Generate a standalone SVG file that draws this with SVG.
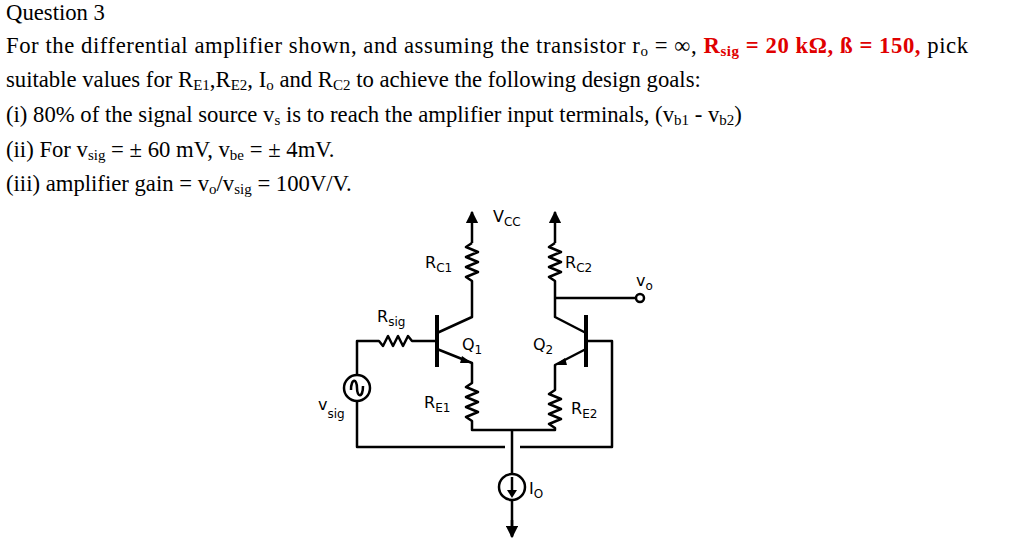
<svg xmlns="http://www.w3.org/2000/svg" width="1010" height="551" viewBox="0 0 1010 551">
<defs>
<style>
.t{font-family:"Liberation Serif",serif;font-size:22.7px;fill:#000}
.s{font-size:15px}
.r{fill:#e00000;font-weight:bold}
.w{stroke:#000;stroke-width:2.5;fill:none;stroke-linejoin:round}
.l{font-family:"DejaVu Sans",sans-serif;font-size:16px;fill:#000}
.ls{font-size:12px}
</style>
<marker id="ah" viewBox="0 0 10 10" refX="9" refY="5" markerWidth="5" markerHeight="5" orient="auto"><path d="M0,0L10,5L0,10z" fill="#000"/></marker>
</defs>
<rect width="1010" height="551" fill="#fff"/>
<g id="text">
<text class="t" x="6" y="20">Question 3</text>
<text class="t" x="6" y="53" textLength="962" lengthAdjust="spacing">For the differential amplifier shown, and assuming the transistor r<tspan class="s" dy="3">o</tspan><tspan dy="-3"> = ∞, </tspan><tspan class="r">R<tspan class="s" dy="3">sig</tspan><tspan dy="-3"> = 20 kΩ, ß = 150,</tspan></tspan> pick</text>
<text class="t" x="6" y="87">suitable values for R<tspan class="s" dy="3">E1</tspan><tspan dy="-3">,R</tspan><tspan class="s" dy="3">E2</tspan><tspan dy="-3">, I</tspan><tspan class="s" dy="3">o</tspan><tspan dy="-3"> and R</tspan><tspan class="s" dy="3">C2</tspan><tspan dy="-3"> to achieve the following design goals:</tspan></text>
<text class="t" x="6" y="122">(i) 80% of the signal source v<tspan class="s" dy="3">s</tspan><tspan dy="-3"> is to reach the amplifier input terminals, (v</tspan><tspan class="s" dy="3">b1</tspan><tspan dy="-3"> - v</tspan><tspan class="s" dy="3">b2</tspan><tspan dy="-3">)</tspan></text>
<text class="t" x="6" y="157">(ii) For v<tspan class="s" dy="3">sig</tspan><tspan dy="-3"> = ± 60 mV, v</tspan><tspan class="s" dy="3">be</tspan><tspan dy="-3"> = ± 4mV.</tspan></text>
<text class="t" x="6" y="191">(iii) amplifier gain = v<tspan class="s" dy="3">o</tspan><tspan dy="-3">/v</tspan><tspan class="s" dy="3">sig</tspan><tspan dy="-3"> = 100V/V.</tspan></text>
</g>
<g id="connectors">
<path class="w" d="M472,243V212" marker-end="url(#ah)"/>
<path class="w" d="M555,243V212" marker-end="url(#ah)"/>
<path class="w" d="M472,243l-6,4l12,5l-12,5l12,5l-12,5l12,5l-12,5l6,4V317L437,333"/>
<path class="w" d="M555,243l-6,4l12,5l-12,5l12,5l-12,5l12,5l-12,5l6,4V317L586,333"/>
<path class="w" d="M555,298H636"/>
<path class="w" d="M437,349L472,363V383l-6,4l12,5l-12,5l12,5l-12,5l12,5l-12,5l6,4V430H555V428l-6,-4l12,-5l-12,-5l12,-5l-12,-5l12,-5l-12,-5l6,-4V365L586,349"/>
<path d="M472,363l-10,-7l-2,7z" fill="#000"/>
<path d="M555,365l10,-7l2,7z" fill="#000"/>
<path class="w" d="M512,430V474M512,500V536" />
<path class="w" d="M512,520V537" marker-end="url(#ah)"/>
<path class="w" d="M437,341H412l-4,-5l-5,10l-5,-10l-5,10l-5,-10l-5,10l-4,-5H357V375M357,401V447H505M520,447H612V341H586"/>
<path d="M437,315V367M586,315V367" stroke="#000" stroke-width="4"/>
</g>
<g id="vsig"><circle cx="357" cy="388" r="13" class="w"/><path class="w" stroke-width="2" d="M351,390c0,-12 6,-12 6,-2s6,10 6,-2"/></g>
<g id="io"><circle cx="512" cy="487" r="13" class="w"/><path class="w" d="M512,477V494"/><path d="M507,490l5,8l5,-8z" fill="#000"/></g>
<g id="vo"><circle cx="640" cy="298" r="4" class="w" stroke-width="2" fill="#fff"/></g>
<g id="labels">
<text class="l" x="493" y="222">V<tspan class="ls" dy="4">CC</tspan></text>
<text class="l" x="425" y="268">R<tspan class="ls" dy="4">C1</tspan></text>
<text class="l" x="565" y="268">R<tspan class="ls" dy="4">C2</tspan></text>
<text class="l" x="377" y="322">R<tspan class="ls" dy="4">sig</tspan></text>
<text class="l" x="462" y="350">Q<tspan class="ls" dy="4">1</tspan></text>
<text class="l" x="533" y="350">Q<tspan class="ls" dy="4">2</tspan></text>
<text class="l" x="424" y="408">R<tspan class="ls" dy="4">E1</tspan></text>
<text class="l" x="571" y="414">R<tspan class="ls" dy="4">E2</tspan></text>
<text class="l" x="318" y="410">v<tspan class="ls" dy="8">sig</tspan></text>
<text class="l" x="636" y="286">v<tspan class="ls" dy="4">o</tspan></text>
<text class="l" x="529" y="494">I<tspan class="ls" dy="4">O</tspan></text>
</g>
</svg>
